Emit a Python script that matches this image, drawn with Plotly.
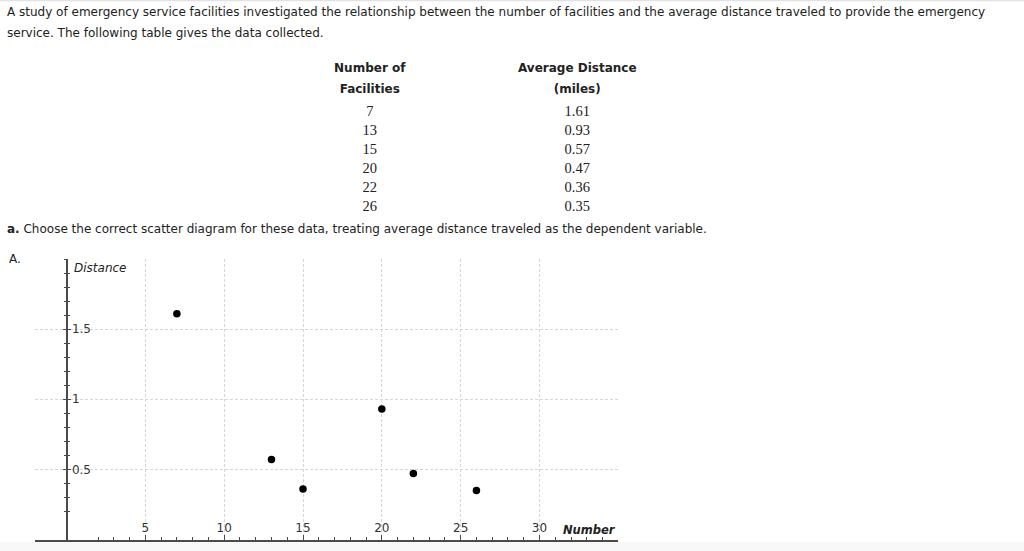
import plotly.graph_objects as go

# ---- data ----
facilities = [7, 13, 15, 20, 22, 26]
avg_distance = [1.61, 0.93, 0.57, 0.47, 0.36, 0.35]

# option A scatter (as plotted in the picture)
option_a_number = [7, 13, 15, 20, 22, 26]
option_a_distance = [1.61, 0.57, 0.36, 0.93, 0.47, 0.35]

x_tickvals = [5, 10, 15, 20, 25, 30, 35]
x_ticktext = ["5", "10", "15", "20", "25", "30", ""]
y_tickvals = [0.5, 1, 1.5, 2]
y_ticktext = ["0.5", "1", "1.5", ""]

header_col1 = ["Number of", "Facilities"]
header_col2 = ["Average Distance", "(miles)"]

intro = ("A study of emergency service facilities investigated the relationship between the number of "
         "facilities and the average distance traveled to provide the emergency")
intro2 = "service. The following table gives the data collected."
question = ("<b>a.</b> Choose the correct scatter diagram for these data, treating average distance "
            "traveled as the dependent variable.")

W, H = 1024, 551
FONT = "DejaVu Sans"
AXIS_COLOR = "#4a4a4a"
GRID_COLOR = "#d6d6d6"

def py(px):
    return 1 - px / H

def pxx(px):
    return px / W

fig = go.Figure()

# table
fig.add_trace(go.Table(
    domain=dict(x=[pxx(266), pxx(681)], y=[py(225), py(55)]),
    columnwidth=[1, 1],
    header=dict(
        values=[header_col1, header_col2],
        align="center", height=21,
        font=dict(family=FONT, size=12, color="#222", weight="bold"),
        fill_color="rgba(0,0,0,0)", line_color="rgba(0,0,0,0)"),
    cells=dict(
        values=[[str(v) for v in facilities], [f"{v:.2f}" for v in avg_distance]],
        align="center", height=19,
        font=dict(family="Liberation Serif", size=14.5, color="#222"),
        fill_color="rgba(0,0,0,0)", line_color="rgba(0,0,0,0)"),
))

# scatter
fig.add_trace(go.Scatter(
    x=option_a_number, y=option_a_distance, mode="markers",
    marker=dict(color="black", size=7.5),
    xaxis="x", yaxis="y", showlegend=False, hoverinfo="skip"))

x0 = pxx(35)
x1 = pxx(618.3)
yaxis_pos = x0 + (x1 - x0) * 2 / 37

fig.update_layout(
    width=W, height=H, autosize=False,
    margin=dict(l=0, r=0, t=0, b=0),
    paper_bgcolor="white", plot_bgcolor="white",
    font=dict(family=FONT, size=12, color="#333"),
    xaxis=dict(
        domain=[x0, x1], range=[-2, 35], anchor="y",
        tickmode="array", tickvals=x_tickvals, ticktext=x_ticktext,
        ticks="inside", ticklen=5, tickcolor=AXIS_COLOR, tickwidth=1.3,
        ticklabelposition="inside", tickfont=dict(size=12, color="#333"),
        showline=True, linecolor=AXIS_COLOR, linewidth=1.6,
        showgrid=True, gridcolor=GRID_COLOR, griddash="3px,2px", gridwidth=1,
        zeroline=False,
        minor=dict(tickmode="linear", tick0=0, dtick=1, ticks="inside", ticklen=3,
                   tickcolor=AXIS_COLOR, showgrid=False),
    ),
    yaxis=dict(
        domain=[py(539.5), py(259)], range=[0, 2], anchor="free", position=yaxis_pos,
        tickmode="array", tickvals=y_tickvals, ticktext=y_ticktext,
        ticks="inside", ticklen=4, tickcolor=AXIS_COLOR, tickwidth=1.3,
        ticklabelposition="inside", tickfont=dict(size=12, color="#333"),
        showline=True, linecolor=AXIS_COLOR, linewidth=1.6,
        showgrid=True, gridcolor=GRID_COLOR, griddash="3px,2px", gridwidth=1,
        zeroline=False,
        minor=dict(tickmode="linear", tick0=0, dtick=0.1, ticks="inside", ticklen=3,
                   tickcolor=AXIS_COLOR, showgrid=False),
    ),
    yaxis2=dict(
        domain=[py(539.5), py(259)], range=[0, 2], anchor="free", position=yaxis_pos,
        overlaying="y",
        tickmode="array", tickvals=y_tickvals, ticktext=y_ticktext,
        ticks="outside", ticklen=4, tickcolor=AXIS_COLOR, tickwidth=1.3,
        showticklabels=False, showline=False, showgrid=False, zeroline=False,
        minor=dict(tickmode="linear", tick0=0, dtick=0.1, ticks="outside", ticklen=3,
                   tickcolor=AXIS_COLOR, showgrid=False),
    ),
    showlegend=False,
)

# invisible trace to activate yaxis2
fig.add_trace(go.Scatter(x=[None], y=[None], xaxis="x", yaxis="y2",
                         showlegend=False, hoverinfo="skip"))

annots = [
    dict(text=intro, x=pxx(5), y=py(12), xanchor="left", size=12, color="#222"),
    dict(text=intro2, x=pxx(5), y=py(33), xanchor="left", size=12, color="#222"),
    dict(text=question, x=pxx(5), y=py(229), xanchor="left", size=12, color="#222"),
    dict(text="A.", x=pxx(7), y=py(259), xanchor="left", size=12, color="#222"),
    dict(text="<i>Distance</i>", x=pxx(72), y=py(268), xanchor="left", size=12, color="#222"),
    dict(text="<b><i>Number</i></b>", x=pxx(618), y=py(530), xanchor="right", size=11.5, color="#222"),
]
for a in annots:
    fig.add_annotation(text=a["text"], x=a["x"], y=a["y"], xref="paper", yref="paper",
                       xanchor=a["xanchor"], yanchor="middle", showarrow=False,
                       font=dict(family=FONT, size=a["size"], color=a["color"]))

# light page bands
fig.add_shape(type="rect", xref="paper", yref="paper", x0=0, x1=1, y0=0, y1=py(542),
              fillcolor="#f8f8f8", line_width=0, layer="below")
fig.add_shape(type="rect", xref="paper", yref="paper", x0=0, x1=1, y0=py(1.2), y1=1,
              fillcolor="#e2e2e2", line_width=0, layer="below")

fig.write_html("out.html", config={"displayModeBar": False},
               post_script="document.body.style.margin='0px';document.body.style.overflow='hidden';")
